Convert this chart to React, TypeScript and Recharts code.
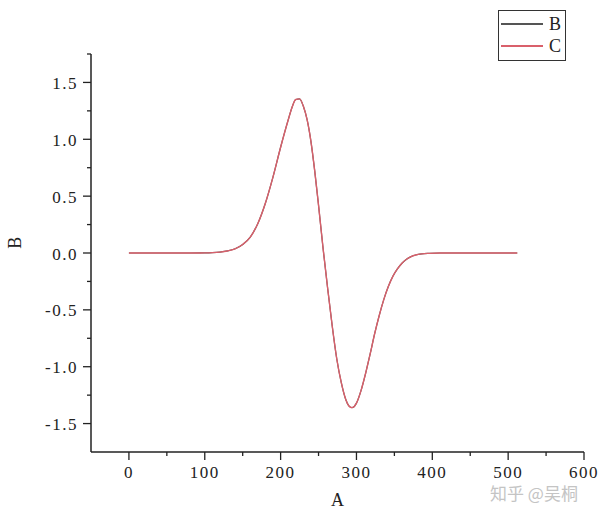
import React from 'react';
import { LineChart, Line, XAxis, YAxis, Legend } from 'recharts';

// values (B sits under C, same curve)
const aValues = [
  0, 20, 40, 60, 80, 100, 110, 120, 130, 140, 150, 160, 170, 180, 190, 200, 210, 215, 220, 225,
  230, 235, 240, 245, 250, 256, 262, 268, 274, 280, 286, 290, 294, 300, 306, 312, 318, 324, 330, 336,
  342, 348, 354, 360, 366, 372, 378, 386, 396, 410, 440, 480, 512,
];
const bValues = [
  0, 0, 0, 0, 0, 0.001, 0.003, 0.008, 0.018, 0.037, 0.075, 0.14, 0.26, 0.44, 0.67, 0.93, 1.17, 1.28, 1.35, 1.355,
  1.29, 1.17, 0.98, 0.72, 0.42, 0.04, -0.31, -0.64, -0.93, -1.14, -1.29, -1.345, -1.36, -1.32, -1.21, -1.06, -0.89, -0.71, -0.55, -0.41,
  -0.295, -0.205, -0.14, -0.09, -0.055, -0.032, -0.018, -0.008, -0.003, 0, 0, 0, 0,
];
const cValues = [
  0, 0, 0, 0, 0, 0.001, 0.003, 0.008, 0.018, 0.037, 0.075, 0.14, 0.26, 0.44, 0.67, 0.93, 1.17, 1.28, 1.35, 1.355,
  1.29, 1.17, 0.98, 0.72, 0.42, 0.04, -0.31, -0.64, -0.93, -1.14, -1.29, -1.345, -1.36, -1.32, -1.21, -1.06, -0.89, -0.71, -0.55, -0.41,
  -0.295, -0.205, -0.14, -0.09, -0.055, -0.032, -0.018, -0.008, -0.003, 0, 0, 0, 0,
];

const xTicks = [0, 50, 100, 150, 200, 250, 300, 350, 400, 450, 500, 550, 600];
const xLabels = [0, 100, 200, 300, 400, 500, 600];
const yTicks = [-1.5, -1.25, -1, -0.75, -0.5, -0.25, 0, 0.25, 0.5, 0.75, 1, 1.25, 1.5, 1.75];
const yLabels = [-1.5, -1, -0.5, 0, 0.5, 1, 1.5];

const data = aValues.map((a, i) => ({ a, B: bValues[i], C: cValues[i] }));

const textStyle = {
  fontFamily: '"Liberation Serif", serif',
  fontSize: 17,
  letterSpacing: 1.5,
  fill: '#222',
};

const XTick = (props: any) => {
  const { x, y, payload } = props;
  const major = xLabels.includes(payload.value);
  return (
    <g>
      <line x1={x} x2={x} y1={y} y2={y + (major ? 8 : 4)} stroke="#222" strokeWidth={1.3} />
      {major && (
        <text x={x} y={y + 26} textAnchor="middle" style={textStyle}>
          {payload.value}
        </text>
      )}
    </g>
  );
};

const YTick = (props: any) => {
  const { x, y, payload } = props;
  const major = yLabels.includes(payload.value);
  return (
    <g>
      <line x1={x - (major ? 8 : 4)} x2={x} y1={y} y2={y} stroke="#222" strokeWidth={1.3} />
      {major && (
        <text x={x - 13} y={y + 6.5} textAnchor="end" style={textStyle}>
          {payload.value.toFixed(1)}
        </text>
      )}
    </g>
  );
};

const renderLegend = (props: any) => {
  const { payload } = props;
  return (
    <div
      style={{
        boxSizing: 'border-box',
        width: 68,
        height: 51,
        border: '1px solid #333',
        padding: '2px 4px 0 2px',
        background: '#fff',
      }}
    >
      {payload.map((entry: any) => (
        <div key={entry.value} style={{ display: 'flex', alignItems: 'center', height: 22 }}>
          <span style={{ width: 42, height: 1.5, background: entry.color, display: 'inline-block' }} />
          <span
            style={{
              marginLeft: 'auto',
              fontFamily: '"Liberation Serif", serif',
              fontSize: 18,
              color: '#222',
              lineHeight: '22px',
            }}
          >
            {entry.value}
          </span>
        </div>
      ))}
    </div>
  );
};

export default function App() {
  return (
    <div style={{ position: 'absolute', left: 0, top: 0, width: 600, height: 515, background: '#fff' }}>
      <LineChart width={600} height={515} data={data} margin={{ top: 54, right: 16, bottom: 0, left: 0 }}>
        <XAxis
          dataKey="a"
          type="number"
          domain={[-50, 600]}
          ticks={xTicks}
          tick={<XTick />}
          tickSize={0}
          tickMargin={0}
          interval={0}
          height={63}
          axisLine={{ stroke: '#222', strokeWidth: 1.5 }}
          allowDataOverflow
          label={{
            value: 'A',
            position: 'insideBottom',
            offset: 9,
            fontFamily: '"Liberation Serif", serif',
            fontSize: 18,
            fill: '#222',
          }}
        />
        <YAxis
          type="number"
          domain={[-1.75, 1.75]}
          ticks={yTicks}
          tick={<YTick />}
          tickSize={0}
          tickMargin={0}
          interval={0}
          width={91}
          axisLine={{ stroke: '#222', strokeWidth: 1.5 }}
          allowDataOverflow
          label={{
            value: 'B',
            content: (p: any) => (
              <text
                x={15}
                y={242}
                transform="rotate(-90 15 242)"
                textAnchor="middle"
                dominantBaseline="central"
                style={{ ...textStyle, fontSize: 18 }}
              >
                {p.value}
              </text>
            ),
          }}
        />
        <Legend
          content={renderLegend}
          layout="vertical"
          align="center"
          verticalAlign="middle"
          wrapperStyle={{ left: 498, top: 10, width: 68 }}
        />
        <Line
          type="monotone"
          dataKey="B"
          name="B"
          stroke="#555"
          strokeWidth={1.2}
          dot={false}
          isAnimationActive={false}
        />
        <Line
          type="monotone"
          dataKey="C"
          name="C"
          stroke="#d9606b"
          strokeWidth={1.4}
          dot={false}
          isAnimationActive={false}
        />
      </LineChart>
      <div
        style={{
          position: 'absolute',
          left: 490,
          top: 485,
          fontFamily: '"Noto Sans CJK SC", sans-serif',
          fontSize: 17,
          lineHeight: '15px',
          color: '#c4c4c4',
          whiteSpace: 'nowrap',
        }}
      >
        知乎 @吴桐
      </div>
    </div>
  );
}
